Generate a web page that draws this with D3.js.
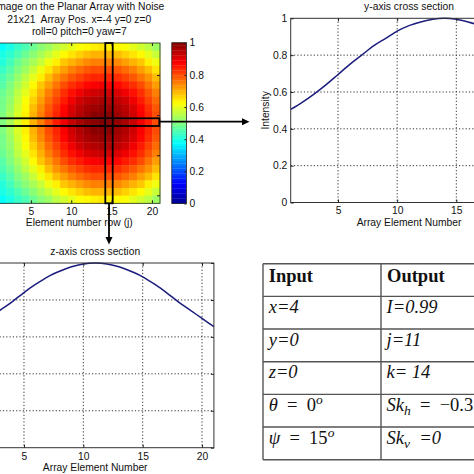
<!DOCTYPE html>
<html>
<head>
<meta charset="utf-8">
<script src="https://cdn.jsdelivr.net/npm/d3@7"></script>
<style>
body { margin: 0; background: #fff; }
svg { display: block; }
</style>
</head>
<body>
<div id="chart"></div>
<script>
var width = 474;
var height = 474;

// array element numbers (rows j / columns k)
var elements = [1, 2, 3, 4, 5, 6, 7, 8, 9, 10, 11, 12, 13, 14, 15, 16, 17, 18, 19, 20, 21];

// 21x21 intensity image, row 1 at the top
var intensity = [
  [0.38,0.40,0.43,0.45,0.48,0.51,0.53,0.56,0.58,0.60,0.62,0.63,0.64,0.65,0.64,0.63,0.62,0.60,0.58,0.56,0.53],
  [0.40,0.42,0.45,0.48,0.51,0.54,0.57,0.60,0.63,0.65,0.67,0.69,0.70,0.70,0.70,0.69,0.67,0.65,0.63,0.60,0.57],
  [0.41,0.44,0.48,0.51,0.54,0.57,0.61,0.64,0.68,0.70,0.72,0.74,0.75,0.75,0.75,0.74,0.72,0.70,0.68,0.64,0.61],
  [0.43,0.46,0.50,0.53,0.57,0.61,0.65,0.69,0.72,0.75,0.77,0.79,0.80,0.80,0.80,0.79,0.77,0.75,0.72,0.69,0.65],
  [0.45,0.48,0.52,0.56,0.60,0.64,0.69,0.73,0.76,0.79,0.81,0.83,0.84,0.84,0.84,0.83,0.81,0.79,0.76,0.73,0.69],
  [0.46,0.50,0.54,0.58,0.63,0.68,0.72,0.76,0.80,0.83,0.85,0.87,0.88,0.89,0.88,0.87,0.85,0.83,0.80,0.76,0.72],
  [0.48,0.51,0.56,0.60,0.65,0.70,0.75,0.79,0.83,0.86,0.89,0.91,0.92,0.93,0.92,0.91,0.89,0.86,0.83,0.79,0.75],
  [0.49,0.52,0.57,0.62,0.67,0.72,0.77,0.81,0.85,0.89,0.92,0.94,0.95,0.96,0.95,0.94,0.92,0.89,0.85,0.81,0.77],
  [0.49,0.53,0.58,0.63,0.69,0.74,0.79,0.83,0.87,0.91,0.94,0.96,0.97,0.98,0.97,0.96,0.94,0.91,0.87,0.83,0.79],
  [0.50,0.54,0.59,0.64,0.70,0.75,0.80,0.84,0.88,0.92,0.95,0.97,0.99,0.99,0.99,0.97,0.95,0.92,0.88,0.84,0.80],
  [0.50,0.54,0.59,0.64,0.70,0.75,0.80,0.85,0.89,0.93,0.96,0.98,0.99,1.00,0.99,0.98,0.96,0.93,0.89,0.85,0.80],
  [0.50,0.54,0.59,0.64,0.70,0.75,0.80,0.84,0.88,0.92,0.95,0.97,0.99,0.99,0.99,0.97,0.95,0.92,0.88,0.84,0.80],
  [0.49,0.53,0.58,0.63,0.69,0.74,0.79,0.83,0.87,0.91,0.94,0.96,0.97,0.98,0.97,0.96,0.94,0.91,0.87,0.83,0.79],
  [0.49,0.52,0.57,0.62,0.67,0.72,0.77,0.81,0.85,0.89,0.92,0.94,0.95,0.96,0.95,0.94,0.92,0.89,0.85,0.81,0.77],
  [0.48,0.51,0.56,0.60,0.65,0.70,0.75,0.79,0.83,0.86,0.89,0.91,0.92,0.93,0.92,0.91,0.89,0.86,0.83,0.79,0.75],
  [0.46,0.50,0.54,0.58,0.63,0.68,0.72,0.76,0.80,0.83,0.85,0.87,0.88,0.89,0.88,0.87,0.85,0.83,0.80,0.76,0.72],
  [0.45,0.48,0.52,0.56,0.60,0.64,0.69,0.73,0.76,0.79,0.81,0.83,0.84,0.84,0.84,0.83,0.81,0.79,0.76,0.73,0.69],
  [0.43,0.46,0.50,0.53,0.57,0.61,0.65,0.69,0.72,0.75,0.77,0.79,0.80,0.80,0.80,0.79,0.77,0.75,0.72,0.69,0.65],
  [0.41,0.44,0.48,0.51,0.54,0.57,0.61,0.64,0.68,0.70,0.72,0.74,0.75,0.75,0.75,0.74,0.72,0.70,0.68,0.64,0.61],
  [0.40,0.42,0.45,0.48,0.51,0.54,0.57,0.60,0.63,0.65,0.67,0.69,0.70,0.70,0.70,0.69,0.67,0.65,0.63,0.60,0.57],
  [0.38,0.40,0.43,0.45,0.48,0.51,0.53,0.56,0.58,0.60,0.62,0.63,0.64,0.65,0.64,0.63,0.62,0.60,0.58,0.56,0.53]
];

// cross sections through the peak
var ySection = [0.505,0.545,0.59,0.64,0.695,0.75,0.80,0.85,0.89,0.93,0.96,0.98,0.995,1.0,0.995,0.98,0.96,0.93,0.89,0.85,0.81];
var zSection = [0.65,0.70,0.745,0.79,0.84,0.885,0.925,0.955,0.98,0.995,1.0,0.995,0.98,0.955,0.925,0.885,0.84,0.79,0.745,0.70,0.655];

var xTicks = [5, 10, 15, 20];
var yTicks = [0, 0.2, 0.4, 0.6, 0.8, 1];
var yGrid = [0.2, 0.4, 0.6, 0.8];

var heatTitle = ["Image on the Planar Array with Noise", "21x21  Array Pos. x=-4 y=0 z=0", "roll=0 pitch=0 yaw=7"];

// table: each cell is a list of [text, style] pieces
var tableHeader = ["Input", "Output"];
var tableInputs = [
  [["x=4", "i"]],
  [["y=0", "i"]],
  [["z=0", "i"]],
  [["\u03b8", "i"], ["\u2002=\u20020", "n"], ["o", "sup"]],
  [["\u03c8", "i"], ["\u2002=\u200215", "n"], ["o", "sup"]]
];
var tableOutputs = [
  [["I=0.99", "i"]],
  [["j=11", "i"]],
  [["k= 14", "i"]],
  [["Sk", "i"], ["h", "sub"], ["\u2002=\u2002\u22120.3", "n"]],
  [["Sk", "i"], ["v", "sub"], ["\u2002=0", "i"]]
];

var sans = "'Liberation Sans', Arial, sans-serif";
var serif = "'Liberation Serif', 'Times New Roman', serif";
var fs = 10.3;

var jet = d3.scaleLinear()
  .domain([0, 0.125, 0.375, 0.625, 0.875, 1])
  .range(["#00008f", "#0000ff", "#00ffff", "#ffff00", "#ff0000", "#800000"])
  .clamp(true);

var svg = d3.select("#chart").append("svg")
  .attr("width", width)
  .attr("height", height)
  .style("background", "#fff");

function styleAxis(g) {
  g.select(".domain").remove();
  g.selectAll("line").attr("stroke", "#222");
  g.selectAll("text").attr("font-size", fs).attr("font-family", sans).attr("fill", "#111");
}

// ---------- heatmap ----------
var hx = d3.scaleLinear().domain([1, 21]).range([-1.4, 160]);
var hy = d3.scaleLinear().domain([1, 21]).range([43, 203.3]);
var cellX = d3.scaleBand().domain(elements).range([-1.4, 160]);
var cellY = d3.scaleBand().domain(elements).range([43, 203.3]);

var cells = [];
intensity.forEach(function (row, r) {
  row.forEach(function (v, c) {
    cells.push({ row: elements[r], col: elements[c], v: v });
  });
});

var heat = svg.append("g");
heat.selectAll("rect")
  .data(cells)
  .enter()
  .append("rect")
  .attr("x", d => cellX(d.col))
  .attr("y", d => cellY(d.row))
  .attr("width", cellX.bandwidth() + 0.4)
  .attr("height", cellY.bandwidth() + 0.4)
  .attr("fill", d => jet(d.v));

heat.append("rect")
  .attr("x", -1.4).attr("y", 43)
  .attr("width", 161.4).attr("height", 160.3)
  .attr("fill", "none").attr("stroke", "#222").attr("stroke-width", 0.8);

heat.append("g")
  .attr("transform", "translate(0,203.3)")
  .call(d3.axisBottom(hx).tickValues(xTicks).tickSize(-3).tickPadding(4.4))
  .call(styleAxis);
heat.append("g")
  .attr("transform", "translate(0,43)")
  .call(d3.axisTop(hx).tickValues(xTicks).tickSize(-3).tickFormat(""))
  .call(styleAxis);
heat.append("g")
  .attr("transform", "translate(160,0)")
  .call(d3.axisRight(hy).tickValues(xTicks).tickSize(-3).tickFormat(""))
  .call(styleAxis);

heat.selectAll(".htitle")
  .data(heatTitle)
  .enter()
  .append("text")
  .attr("x", 79.3)
  .attr("y", (d, i) => 10.4 + i * 12.2)
  .attr("text-anchor", "middle")
  .attr("font-family", sans)
  .attr("font-size", fs)
  .attr("fill", "#111")
  .style("white-space", "pre")
  .text(d => d);

heat.append("text")
  .attr("x", 79.3).attr("y", 226.3)
  .attr("text-anchor", "middle")
  .attr("font-family", sans).attr("font-size", fs).attr("fill", "#111")
  .text("Element number row (j)");

// ---------- colorbar ----------
var cbY = d3.scaleLinear().domain([0, 1]).range([203.5, 42.7]);
var levels = d3.range(64).map(i => i / 64);
svg.append("g").selectAll("rect")
  .data(levels)
  .enter()
  .append("rect")
  .attr("x", 171.8)
  .attr("y", d => cbY(d + 1 / 64))
  .attr("width", 14.6)
  .attr("height", cbY(0) - cbY(1 / 64) + 0.3)
  .attr("fill", d => jet(d + 0.5 / 64));
svg.append("rect")
  .attr("x", 171.8).attr("y", 42.7).attr("width", 14.6).attr("height", 160.8)
  .attr("fill", "none").attr("stroke", "#222").attr("stroke-width", 0.8);
svg.append("g")
  .attr("transform", "translate(186.4,0)")
  .call(d3.axisRight(cbY).tickValues(yTicks).tickSize(-2).tickPadding(3.2).tickFormat(d3.format("~g")))
  .call(styleAxis);

// ---------- cross section plots ----------
function crossSection(cfg) {
  var x = d3.scaleLinear().domain([1, 21]).range(cfg.xRange);
  var y = d3.scaleLinear().domain([0, 1]).range(cfg.yRange);
  var x0 = cfg.xRange[0], x1 = cfg.xRange[1];
  var y0 = cfg.yRange[0], y1 = cfg.yRange[1];
  var g = svg.append("g");

  g.selectAll(".gx")
    .data(xTicks)
    .enter()
    .append("line")
    .attr("x1", d => x(d)).attr("x2", d => x(d))
    .attr("y1", y1).attr("y2", y0)
    .attr("stroke", "#333").attr("stroke-width", 1)
    .attr("stroke-dasharray", "1.2,2.1");
  g.selectAll(".gy")
    .data(yGrid)
    .enter()
    .append("line")
    .attr("x1", x0).attr("x2", x1)
    .attr("y1", d => y(d)).attr("y2", d => y(d))
    .attr("stroke", "#333").attr("stroke-width", 1)
    .attr("stroke-dasharray", "1.2,2.1");

  g.append("path")
    .datum(cfg.values)
    .attr("fill", "none")
    .attr("stroke", "#1c1c7e")
    .attr("stroke-width", 1.5)
    .attr("d", d3.line()
      .x((d, i) => x(elements[i]))
      .y(d => y(d))
      .curve(d3.curveMonotoneX));

  g.append("rect")
    .attr("x", x0).attr("y", y1)
    .attr("width", x1 - x0).attr("height", y0 - y1)
    .attr("fill", "none").attr("stroke", "#333").attr("stroke-width", 1);

  g.append("g")
    .attr("transform", "translate(0," + y0 + ")")
    .call(d3.axisBottom(x).tickValues(xTicks).tickSize(-3).tickPadding(4.5))
    .call(styleAxis);
  g.append("g")
    .attr("transform", "translate(0," + y1 + ")")
    .call(d3.axisTop(x).tickValues(xTicks).tickSize(-3).tickFormat(""))
    .call(styleAxis);
  g.append("g")
    .attr("transform", "translate(" + x0 + ",0)")
    .call(d3.axisLeft(y).tickValues(yTicks).tickSize(-3).tickPadding(3.4).tickFormat(d3.format("~g")))
    .call(styleAxis);
  g.append("g")
    .attr("transform", "translate(" + x1 + ",0)")
    .call(d3.axisRight(y).tickValues(yTicks).tickSize(-3).tickFormat(""))
    .call(styleAxis);

  var cx = (x0 + x1) / 2;
  g.append("text")
    .attr("x", cx).attr("y", y1 - 7.9)
    .attr("text-anchor", "middle")
    .attr("font-family", sans).attr("font-size", fs).attr("fill", "#111")
    .text(cfg.title);
  g.append("text")
    .attr("x", cx).attr("y", y0 + 23)
    .attr("text-anchor", "middle")
    .attr("font-family", sans).attr("font-size", fs).attr("fill", "#111")
    .text("Array Element Number");
  g.append("text")
    .attr("transform", "translate(" + (x0 - 25.4) + "," + ((y0 + y1) / 2) + ") rotate(-90)")
    .attr("dy", "0.35em")
    .attr("text-anchor", "middle")
    .attr("font-family", sans).attr("font-size", fs).attr("fill", "#111")
    .text("Intensity");
}

crossSection({ title: "y-axis cross section", values: ySection, xRange: [290.7, 527.3], yRange: [202.5, 18.3] });
crossSection({ title: "z-axis cross section", values: zSection, xRange: [-23.5, 213.9], yRange: [447.7, 263] });

// ---------- annotations: selected row / column and arrows ----------
var ann = svg.append("g").attr("stroke", "#000").attr("stroke-width", 1.8).attr("fill", "none");
ann.append("rect").attr("x", 105.3).attr("y", 43).attr("width", 7.4).attr("height", 160.3);
ann.append("rect").attr("x", -2).attr("y", 118.3).attr("width", 161.3).attr("height", 7.7);
ann.append("line").attr("x1", 159.3).attr("y1", 121.7).attr("x2", 243).attr("y2", 121.7);
ann.append("line").attr("x1", 109).attr("y1", 203.3).attr("x2", 109).attr("y2", 238);
svg.append("path").attr("d", "M242,118.2 L249.5,121.7 L242,125.2 Z").attr("fill", "#000");
svg.append("path").attr("d", "M105.5,237 L109,244.5 L112.5,237 Z").attr("fill", "#000");

// ---------- table ----------
var rowY = d3.scaleBand().domain(d3.range(6)).range([263.7, 459.7]);
var tbl = svg.append("g");
var tblLeft = 263, tblMid = 381, tblRight = 600;

tbl.selectAll(".hl")
  .data(d3.range(7))
  .enter()
  .append("line")
  .attr("x1", tblLeft).attr("x2", tblRight)
  .attr("y1", d => 263.7 + d * rowY.bandwidth())
  .attr("y2", d => 263.7 + d * rowY.bandwidth())
  .attr("stroke", "#555").attr("stroke-width", 1.4);
[tblLeft, tblMid].forEach(function (x) {
  tbl.append("line")
    .attr("x1", x).attr("x2", x).attr("y1", 263.7).attr("y2", 459.7)
    .attr("stroke", "#555").attr("stroke-width", 1.4);
});

var tfs = 18.5;
tbl.selectAll(".th")
  .data(tableHeader)
  .enter()
  .append("text")
  .attr("x", (d, i) => i === 0 ? 268.7 : 387)
  .attr("y", rowY(0) + 18.3)
  .attr("font-family", serif).attr("font-size", tfs).attr("font-weight", "bold").attr("fill", "#111")
  .text(d => d);

function writeCell(x, y, pieces) {
  var t = tbl.append("text")
    .attr("x", x).attr("y", y)
    .attr("font-family", serif).attr("font-size", tfs).attr("fill", "#111")
    .style("white-space", "pre");
  var shift = 0;
  pieces.forEach(function (p) {
    var target = p[1] === "sup" ? -7 : (p[1] === "sub" ? 4 : 0);
    t.append("tspan")
      .attr("dy", target - shift)
      .attr("font-style", p[1] === "n" ? "normal" : "italic")
      .attr("font-size", (p[1] === "sup" || p[1] === "sub") ? 13.5 : tfs)
      .text(p[0]);
    shift = target;
  });
}

tableInputs.forEach(function (cell, i) { writeCell(268.7, rowY(i + 1) + 16.6, cell); });
tableOutputs.forEach(function (cell, i) { writeCell(386.5, rowY(i + 1) + 16.6, cell); });
</script>
</body>
</html>
